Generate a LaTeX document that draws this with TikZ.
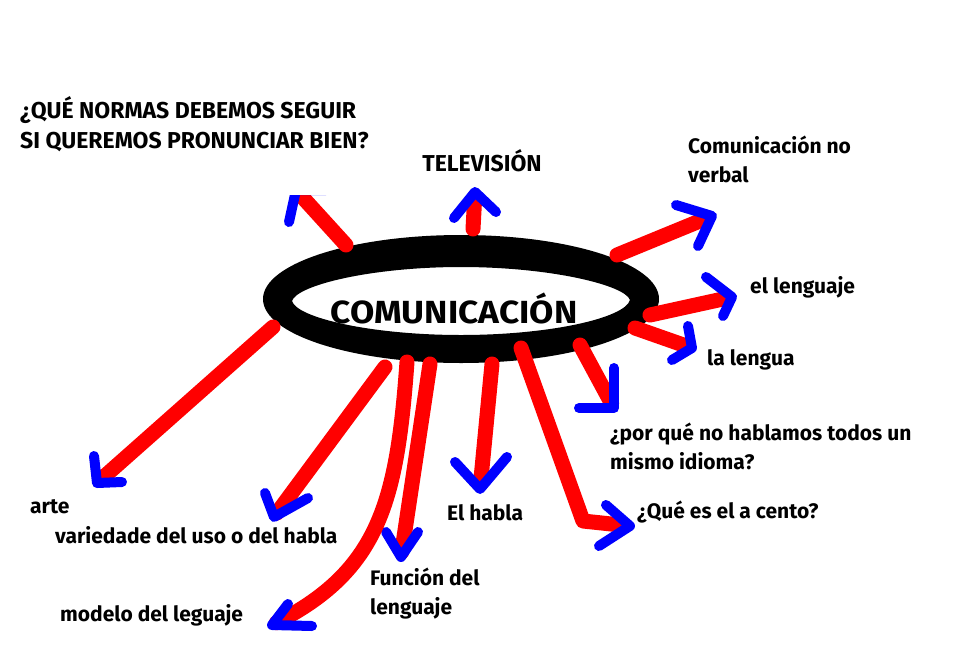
\documentclass[tikz,border=0pt]{standalone}
\usepackage{fontspec}
\usepackage{graphicx}
\setmainfont{Fira Sans}
\usetikzlibrary{calc}
\begin{document}
\begin{tikzpicture}[x=1pt,y=-1pt,
  shaft/.style={draw=red, line width=15pt, line cap=round, line join=round, shorten >=5pt},
  barb/.style={draw=blue, line width=10pt, line cap=round, line join=round},
  ring/.style={fill=black, even odd rule},
  lbl/.style={font=\bfseries\fontsize{21}{29}\selectfont, inner sep=0pt, align=left, text=black},
  caps/.style={font=\bfseries\fontsize{23}{30}\selectfont, inner sep=0pt, align=left, text=black},
]
\useasboundingbox[fill=white] (0,0) rectangle (962,665);

% central ring (outer ellipse minus inner rounded lens)
\coordinate (c) at (461,299);
\fill[ring] (c) ellipse [x radius=198, y radius=64]
  (292,301) .. controls (297,285) and (372,267) .. (461,267)
  .. controls (550,267) and (625,285) .. (630,300)
  .. controls (625,318) and (550,335) .. (461,335)
  .. controls (372,335) and (297,318) .. cycle;
\node[font=\bfseries\fontsize{32}{36}\selectfont, inner sep=0pt] (com) at (454,308) {\scalebox{1.1}[1]{COMUNICACIÓN}};

% labels
\node[caps, anchor=north west] (normas) at (20,96) {¿QUÉ NORMAS DEBEMOS SEGUIR\\SI QUEREMOS PRONUNCIAR BIEN?};
\node[caps] (tele) at (482,161) {TELEVISIÓN};
\node[lbl, anchor=north west] (nover) at (688,136) {Comunicación no\\verbal};
\node[lbl, anchor=west] (lenguaje) at (750,287) {el lenguaje};
\node[lbl, anchor=west] (lengua) at (707,360) {la lengua};
\node[lbl, anchor=north west] (idioma) at (610,423) {¿por qué no hablamos todos un\\mismo idioma?};
\node[lbl, anchor=west] (acento) at (637,512) {¿Qué es el a cento?};
\node[lbl, anchor=west] (habla) at (447,513) {El habla};
\node[lbl, anchor=north west] (funcion) at (370,568) {Función del\\lenguaje};
\node[lbl, anchor=west] (modelo) at (60,615) {modelo del leguaje};
\node[lbl, anchor=west] (variedad) at (55,535) {variedade del uso o del habla};
\node[lbl, anchor=west] (arte) at (30,507) {arte};

% arrow 1 (clipped at top)
\coordinate (s1) at (346,245); \coordinate (v1) at (296,190);
\coordinate (a1) at (289,222); \coordinate (b1) at (326,190);
\begin{scope}
\clip (0,195) rectangle (962,665);
\draw[shaft, shorten >=0pt] (s1) -- (v1);
\draw[barb] (a1) -- (v1) -- (b1);
\end{scope}

% arrow 2 television
\coordinate (s2) at (473,229); \coordinate (v2) at (475,192);
\coordinate (a2) at (454,218); \coordinate (b2) at (496,212);
\draw[shaft] (s2) -- (v2); \draw[barb] (a2) -- (v2) -- (b2);

% arrow 3 no verbal
\coordinate (s3) at (617,255); \coordinate (v3) at (712,216);
\coordinate (a3) at (676,205); \coordinate (b3) at (698,246);
\draw[shaft] (s3) -- (v3); \draw[barb] (a3) -- (v3) -- (b3);

% arrow 4 el lenguaje
\coordinate (s4) at (650,315); \coordinate (v4) at (732,297);
\coordinate (a4) at (706,277); \coordinate (b4) at (723,316);
\draw[shaft] (s4) -- (v4); \draw[barb] (a4) -- (v4) -- (b4);

% arrow 5 la lengua
\coordinate (s5) at (635,328); \coordinate (v5) at (692,348);
\coordinate (a5) at (688,326); \coordinate (b5) at (672,360);
\draw[shaft] (s5) -- (v5); \draw[barb] (a5) -- (v5) -- (b5);

% arrow 6 idioma
\coordinate (s6) at (580,345); \coordinate (v6) at (614,408);
\coordinate (a6) at (614,368); \coordinate (b6) at (579,408);
\draw[shaft] (s6) -- (v6); \draw[barb] (a6) -- (v6) -- (b6);

% arrow 7 acento
\coordinate (s7) at (521,348); \coordinate (k7) at (583,521); \coordinate (v7) at (630,526);
\coordinate (a7) at (606,505); \coordinate (b7) at (599,546);
\draw[shaft] (s7) -- (k7) -- (v7); \draw[barb] (a7) -- (v7) -- (b7);

% arrow 8 el habla
\coordinate (s8) at (492,364); \coordinate (v8) at (480,489);
\coordinate (a8) at (455,462); \coordinate (b8) at (507,457);
\draw[shaft] (s8) -- (v8); \draw[barb] (a8) -- (v8) -- (b8);

% arrow 9 funcion
\coordinate (s9) at (430,364); \coordinate (v9) at (401,557);
\coordinate (a9) at (386,532); \coordinate (b9) at (418,532);
\draw[shaft] (s9) -- (v9); \draw[barb] (a9) -- (v9) -- (b9);

% arrow 10 modelo (curved)
\coordinate (s10) at (407,362); \coordinate (v10) at (272,625);
\coordinate (a10) at (288,604); \coordinate (b10) at (312,626);
\draw[shaft] (s10) .. controls (397,500) and (380,570) .. (v10);
\draw[barb] (a10) -- (v10) -- (b10);

% arrow 11 variedad
\coordinate (s11) at (385,367); \coordinate (v11) at (274,517);
\coordinate (a11) at (265,493); \coordinate (b11) at (308,498);
\draw[shaft] (s11) -- (v11); \draw[barb] (a11) -- (v11) -- (b11);

% arrow 12 arte
\coordinate (s12) at (273,327); \coordinate (v12) at (97,483);
\coordinate (a12) at (94,456); \coordinate (b12) at (122,482);
\draw[shaft] (s12) -- (v12); \draw[barb] (a12) -- (v12) -- (b12);
\end{tikzpicture}
\end{document}
